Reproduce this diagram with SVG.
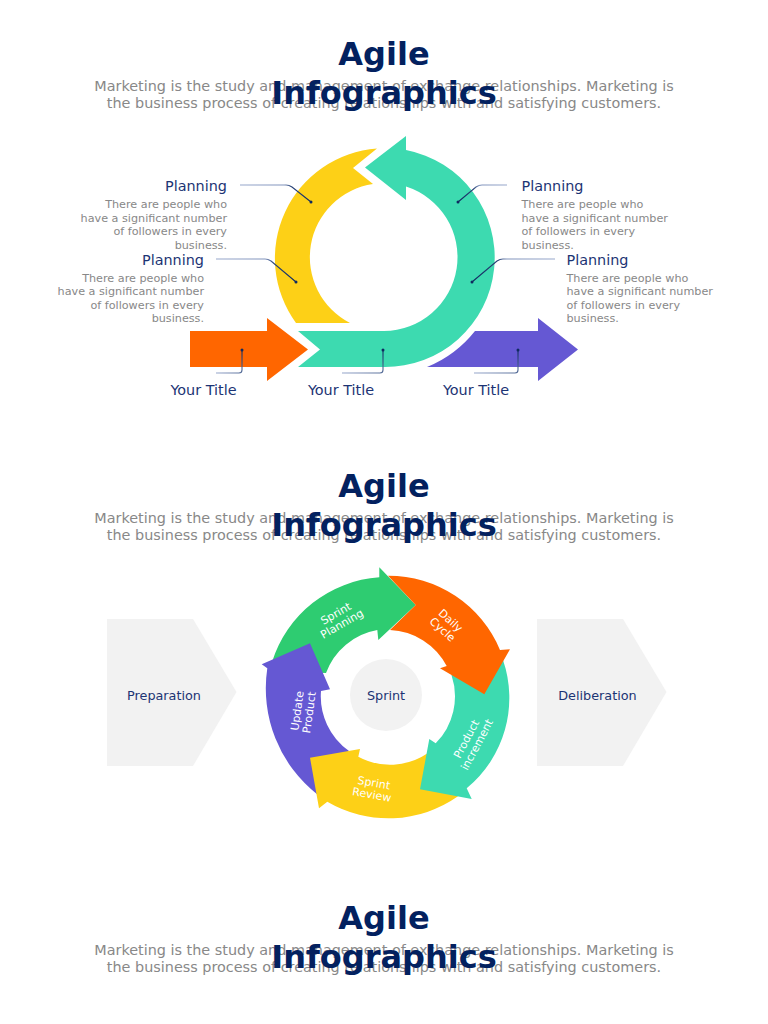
<svg xmlns="http://www.w3.org/2000/svg" width="768" height="1024" viewBox="0 0 768 1024">
<style>
text{font-family:"DejaVu Sans",sans-serif}
.t{font-size:32px;font-weight:700;fill:#03215f;text-anchor:middle}
.s{font-size:14.4px;fill:#888;text-anchor:middle}
.h{font-size:14.4px;fill:#1c3474}
.b{font-size:11.2px;fill:#888}
.e{text-anchor:end}
.m{text-anchor:middle}
.w{font-size:11px;fill:#fff;text-anchor:middle}
.n{font-size:12.8px;fill:#1c3474;text-anchor:middle}
.lr{fill:none;stroke:url(#gr);stroke-width:1.1}
.ll{fill:none;stroke:url(#gl);stroke-width:1.1}
.lb{fill:none;stroke:url(#gb);stroke-width:1.1}
.d{fill:#0f2a60}
</style>
<defs>
<linearGradient id="gr" x1="0" x2="1" y1="0" y2="0"><stop offset="0" stop-color="#98a8cc"/><stop offset=".62" stop-color="#7f92bb"/><stop offset=".72" stop-color="#2a4478"/><stop offset="1" stop-color="#0f2a60"/></linearGradient>
<linearGradient id="gl" x1="1" x2="0" y1="0" y2="0"><stop offset="0" stop-color="#98a8cc"/><stop offset=".58" stop-color="#7f92bb"/><stop offset=".68" stop-color="#2a4478"/><stop offset="1" stop-color="#0f2a60"/></linearGradient>
<linearGradient id="gb" x1="0" x2="1" y1="1" y2="0"><stop offset="0" stop-color="#98a8cc"/><stop offset=".6" stop-color="#4a628f"/><stop offset="1" stop-color="#0f2a60"/></linearGradient>
</defs>
<g id="header-1"><text class="t" x="384" y="65">Agile</text><text class="s" x="384" y="91">Marketing is the study and management of exchange relationships. Marketing is</text><text class="s" x="384" y="108">the business process of creating relationships with and satisfying customers.</text><text class="t" x="384" y="104">Infographics</text></g>
<g id="loop-shapes">
<path id="arrow-orange" fill="#ff6600" d="M190 331H267V318L308 349.500L267 381V367H190Z"/>
<path id="arrow-purple" fill="#6558d3" d="M427 367H538V381L578 349.500L538 318V331H475A117.500 117.500 0 0 1 427 367Z"/>
<path id="arc-yellow" fill="#fdd017" d="M377 148.500L353 168L373 184A74 74 0 0 0 350 323H296A110 110 0 0 1 377 148.500Z"/>
<path id="arc-teal" fill="#3ddab0" d="M298 367L320 349.500L298 331H384A74 74 0 0 0 406 186.500V200L365 167.500L406 136V150A109.500 109.500 0 0 1 384 367Z"/>
</g>
<g id="connectors">
<path class="lr" d="M240 185H286Q289 185 292 187L311 202"/><circle class="d" cx="311" cy="202" r="1.500"/>
<path class="lr" d="M216 259H265Q268 259 271 261L296 282"/><circle class="d" cx="296" cy="282" r="1.500"/>
<path class="ll" d="M458 202L476 187Q479 185 482 185H507"/><circle class="d" cx="458" cy="202" r="1.500"/>
<path class="ll" d="M472 282L497 261Q500 259 503 259H555"/><circle class="d" cx="472" cy="282" r="1.500"/>
<path class="lb" d="M216 373H239Q242 373 242 370V350"/><circle class="d" cx="242" cy="350" r="1.500"/>
<path class="lb" d="M342 373H380Q383 373 383 370V350"/><circle class="d" cx="383" cy="350" r="1.500"/>
<path class="lb" d="M474 373H515Q518 373 518 370V350"/><circle class="d" cx="518" cy="350" r="1.500"/>
</g>
<g id="note-left-1"><text class="h e" x="227" y="191">Planning</text><text class="b e" x="227" y="208">There are people who</text><text class="b e" x="227" y="221.500">have a significant number</text><text class="b e" x="227" y="235">of followers in every</text><text class="b e" x="227" y="248.500">business.</text></g>
<g id="note-left-2"><text class="h e" x="204" y="265">Planning</text><text class="b e" x="204" y="282">There are people who</text><text class="b e" x="204" y="295">have a significant number</text><text class="b e" x="204" y="308.500">of followers in every</text><text class="b e" x="204" y="322">business.</text></g>
<g id="note-right-1"><text class="h" x="521.500" y="191">Planning</text><text class="b" x="521.500" y="208">There are people who</text><text class="b" x="521.500" y="221.500">have a significant number</text><text class="b" x="521.500" y="235">of followers in every</text><text class="b" x="521.500" y="248.500">business.</text></g>
<g id="note-right-2"><text class="h" x="566.500" y="265">Planning</text><text class="b" x="566.500" y="282">There are people who</text><text class="b" x="566.500" y="295">have a significant number</text><text class="b" x="566.500" y="308.500">of followers in every</text><text class="b" x="566.500" y="322">business.</text></g>
<g id="title-1"><text class="h m" x="203.500" y="395">Your Title</text></g>
<g id="title-2"><text class="h m" x="341" y="395">Your Title</text></g>
<g id="title-3"><text class="h m" x="476" y="395">Your Title</text></g>
<g id="header-2"><text class="t" x="384" y="497">Agile</text><text class="s" x="384" y="523">Marketing is the study and management of exchange relationships. Marketing is</text><text class="s" x="384" y="540">the business process of creating relationships with and satisfying customers.</text><text class="t" x="384" y="536">Infographics</text></g>
<g id="preparation"><path fill="#f2f2f2" d="M107 619H193L236.500 692L193 766H107Z"/><text class="n" x="164" y="700">Preparation</text></g>
<g id="deliberation"><path fill="#f2f2f2" d="M537 619H623L666.500 692L623 766H537Z"/><text class="n" x="597.500" y="700">Deliberation</text></g>
<g id="sprint-planning"><path fill="#2ecc71" d="M272 662A121 121 0 0 1 379.300 577.300V567.300L415.700 605L378.300 640L377.300 630A67 67 0 0 0 326 673L295 672Z"/></g>
<g id="update-product"><path fill="#6558d3" d="M310 643.300L330 689.300L321 691A67 67 0 0 0 349 751L340 775L318 795A135 135 0 0 1 267.300 668.300L261.700 664.300Z"/></g>
<g id="sprint-review"><path fill="#fdd017" d="M360 749L310 757.700L319 808.300L327.300 801.700A121 121 0 0 0 458 796.300L440 770L428 753A67 67 0 0 1 358.300 756.700Z"/></g>
<g id="product-increment"><path fill="#3ddab0" d="M429.300 739L420 789.300L471.700 799L466.700 788.300A117 117 0 0 0 503 660L475 672L451.500 675A67 67 0 0 1 435.700 743.300Z"/></g>
<g id="daily-cycle"><path fill="#ff6600" d="M388 575.700A121 121 0 0 1 500 650L510 649.300L484.300 694.300L440 668.300L446.700 666A67 67 0 0 0 390 630L415.700 605Z"/></g>
<g id="sprint-center"><circle cx="386" cy="695" r="36" fill="#f2f2f2"/><text class="n" x="386" y="699.500">Sprint</text></g>
<g id="ring-labels">
<text class="w" transform="translate(338.500 618) rotate(-30)"><tspan x="0" y="-1.500">Sprint</tspan><tspan x="0" y="10.500">Planning</tspan></text>
<text class="w" transform="translate(447 624.500) rotate(42)"><tspan x="0" y="-1.500">Daily</tspan><tspan x="0" y="10.500">Cycle</tspan></text>
<text class="w" transform="translate(471 741.500) rotate(-62)"><tspan x="0" y="-1.500">Product</tspan><tspan x="0" y="10.500">increment</tspan></text>
<text class="w" transform="translate(373 788) rotate(10)"><tspan x="0" y="-1.500">Sprint</tspan><tspan x="0" y="10.500">Review</tspan></text>
<text class="w" transform="translate(302.500 711.500) rotate(-82)"><tspan x="0" y="-1.500">Update</tspan><tspan x="0" y="10.500">Product</tspan></text>
</g>
<g id="header-3"><text class="t" x="384" y="929">Agile</text><text class="s" x="384" y="955">Marketing is the study and management of exchange relationships. Marketing is</text><text class="s" x="384" y="972">the business process of creating relationships with and satisfying customers.</text><text class="t" x="384" y="968">Infographics</text></g>
</svg>
